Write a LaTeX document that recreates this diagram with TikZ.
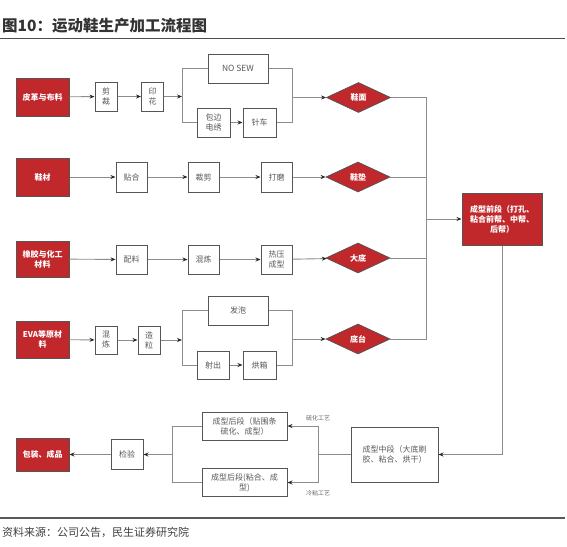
\documentclass[tikz,border=0pt]{standalone}
\usepackage{fontspec}
\usetikzlibrary{arrows.meta,shapes.geometric}
\newfontfamily\cjk{Noto Sans CJK SC}
\definecolor{shoered}{RGB}{192,40,44}
\definecolor{boxline}{RGB}{85,85,85}
\definecolor{flowline}{RGB}{140,140,140}

\begin{document}
\begin{tikzpicture}[x=1pt,y=-1pt,>={Stealth[length=5pt,width=4pt]},
  proc/.style={draw=boxline,line width=1pt,fill=white,inner sep=0pt,font=\cjk\fontsize{8}{10}\selectfont,text=black!65,align=center},
  rawbox/.style={draw=boxline,line width=1pt,fill=shoered,inner sep=0pt,minimum width=53pt,minimum height=38pt,font=\cjk\bfseries\fontsize{8}{10}\selectfont,text=white,align=center},
  part/.style={diamond,draw=boxline,line width=0.8pt,fill=shoered,inner sep=0pt,minimum width=64pt,minimum height=30pt,font=\cjk\bfseries\fontsize{8}{10}\selectfont,text=white},
  flow/.style={draw=flowline,line width=0.9pt},
  go/.style={flow,-{Stealth[length=5pt,width=4pt,color=black!85]}},
  tag/.style={font=\cjk\fontsize{6}{7}\selectfont,text=black!60,inner sep=0pt}]
  \useasboundingbox (0,0) rectangle (567,546);
  % title and source
  \node[anchor=west,inner sep=0pt,font=\cjk\bfseries\fontsize{15.5}{18}\selectfont,text=black!80] (title) at (2,26) {图10：运动鞋生产加工流程图};
  \draw[line width=1.8pt,black!70] (0,38.5) -- (565,38.5);
  \draw[line width=1.4pt,black!65] (0,518) -- (565,518);
  \node[anchor=west,inner sep=0pt,font=\cjk\fontsize{11}{13}\selectfont,text=black!75] (source) at (2,532) {资料来源：公司公告，民生证券研究院};

  % upper
  \node[rawbox] (leather) at (42.5,97) {皮革与布料};
  \node[proc,minimum width=22pt,minimum height=29pt] (cut) at (106,96.5) {剪\\裁};
  \node[proc,minimum width=22pt,minimum height=29pt] (print) at (152.5,96.5) {印\\花};
  \node[proc,minimum width=60pt,minimum height=29pt,font=\cjk\fontsize{8.5}{10}\selectfont] (nosew) at (238,68.5) {NO SEW};
  \node[proc,minimum width=33pt,minimum height=29pt] (embroid) at (213.5,122.5) {包边\\电绣};
  \node[proc,minimum width=33pt,minimum height=29pt] (stitch) at (259.5,122.5) {针车};
  \node[part] (upper) at (358.5,97.5) {鞋面};
  \coordinate (s1) at (182,96.5);
  \coordinate (s1a) at (182,68.5);
  \coordinate (s1b) at (182,122.5);
  \coordinate (m1a) at (292,68.5);
  \coordinate (m1b) at (292,122.5);
  \coordinate (m1) at (292,97.5);

  % insole
  \node[rawbox] (material) at (42.5,177) {鞋材};
  \node[proc,minimum width=31pt,minimum height=30pt] (bond) at (131.5,177) {贴合};
  \node[proc,minimum width=31pt,minimum height=30pt] (trim) at (203.5,177) {裁剪};
  \node[proc,minimum width=31pt,minimum height=30pt] (grind) at (276.5,177) {打磨};
  \node[part] (insole) at (358,177) {鞋垫};

  % outsole
  \node[rawbox,minimum height=36pt] (rubber) at (42.5,259) {橡胶与化工\\材料};
  \node[proc,minimum width=31pt,minimum height=29pt] (batch) at (131.5,259.5) {配料};
  \node[proc,minimum width=31pt,minimum height=29pt] (mix) at (203.5,259.5) {混炼};
  \node[proc,minimum width=31pt,minimum height=29pt] (press) at (276.5,259.5) {热压\\成型};
  \node[part] (outsole) at (358,258) {大底};

  % midsole
  \node[rawbox,minimum height=37pt] (eva) at (42.5,339.5) {EVA等原材\\料};
  \node[proc,minimum width=22pt,minimum height=28pt] (evamix) at (106,340) {混\\炼};
  \node[proc,minimum width=22pt,minimum height=28pt] (pellet) at (149,340) {造\\粒};
  \node[proc,minimum width=60pt,minimum height=29pt] (foam) at (238,310.5) {发泡};
  \node[proc,minimum width=32pt,minimum height=28pt] (inject) at (213,365) {射出};
  \node[proc,minimum width=33pt,minimum height=28pt] (oven) at (259.5,365) {烘箱};
  \node[part] (midsole) at (358,339) {底台};
  \coordinate (s4) at (182,340);
  \coordinate (s4a) at (182,310.5);
  \coordinate (s4b) at (182,365);
  \coordinate (m4a) at (292,310.5);
  \coordinate (m4b) at (292,365);
  \coordinate (m4) at (292,339);

  % assembly
  \coordinate (c1) at (426,97.5);
  \coordinate (c2) at (426,177);
  \coordinate (c3) at (426,258);
  \coordinate (c4) at (426,339);
  \coordinate (cin) at (426,219);
  \node[rawbox,minimum width=80pt,minimum height=52pt] (front) at (502,219) {成型前段（打孔、\\粘合前帮、中帮、\\后帮）};
  \node[proc,minimum width=87pt,minimum height=55pt] (middle) at (394.5,454.5) {成型中段（大底刷\\胶、粘合、烘干）};
  \coordinate (split) at (318,454.5);
  \coordinate (hot) at (318,426);
  \coordinate (cold) at (318,482.5);
  \node[proc,minimum width=85pt,minimum height=28pt] (vulc) at (244.5,426) {成型后段（贴围条\\硫化、成型）};
  \node[proc,minimum width=85pt,minimum height=28pt] (cement) at (244.5,482.5) {成型后段(粘合、成\\型)};
  \node[tag] (hotlbl) at (318,418) {硫化工艺};
  \node[tag] (coldlbl) at (318,493) {冷粘工艺};
  \coordinate (join) at (172,454.5);
  \coordinate (ja) at (172,426);
  \coordinate (jb) at (172,482.5);
  \node[proc,minimum width=32pt,minimum height=30pt] (check) at (127,454.5) {检验};
  \node[rawbox,minimum height=33pt] (pack) at (42.5,454.5) {包装、成品};

  % connectors
  \draw[go] (leather) -- (cut);
  \draw[go] (cut) -- (print);
  \draw[go] (print) -- (s1);
  \draw[flow] (nosew.west) -- (s1a) -- (s1b) -- (embroid.west);
  \draw[go] (embroid) -- (stitch);
  \draw[flow] (nosew.east) -- (m1a) -- (m1b) -- (stitch.east);
  \draw[go] (m1) -- (upper);

  \draw[go] (material) -- (bond);
  \draw[go] (bond) -- (trim);
  \draw[go] (trim) -- (grind);
  \draw[go] (grind) -- (insole);

  \draw[go] (rubber) -- (batch);
  \draw[go] (batch) -- (mix);
  \draw[go] (mix) -- (press);
  \draw[go] (press) -- (outsole);

  \draw[go] (eva) -- (evamix);
  \draw[go] (evamix) -- (pellet);
  \draw[go] (pellet) -- (s4);
  \draw[flow] (foam.west) -- (s4a) -- (s4b) -- (inject.west);
  \draw[go] (inject) -- (oven);
  \draw[flow] (foam.east) -- (m4a) -- (m4b) -- (oven.east);
  \draw[go] (m4) -- (midsole);

  \draw[flow] (upper.east) -- (c1) -- (c4) -- (midsole.east);
  \draw[flow] (insole.east) -- (c2);
  \draw[flow] (outsole.east) -- (c3);
  \draw[go] (cin) -- (front);
  \draw[go] (front.south) |- (middle.east);
  \draw[flow] (middle.west) -- (split);
  \draw[flow] (hot) -- (cold);
  \draw[go] (hot) -- (vulc);
  \draw[go] (cold) -- (cement);
  \draw[flow] (vulc.west) -- (ja) -- (jb) -- (cement.west);
  \draw[go] (join) -- (check);
  \draw[go] (check) -- (pack);
\end{tikzpicture}
\end{document}
